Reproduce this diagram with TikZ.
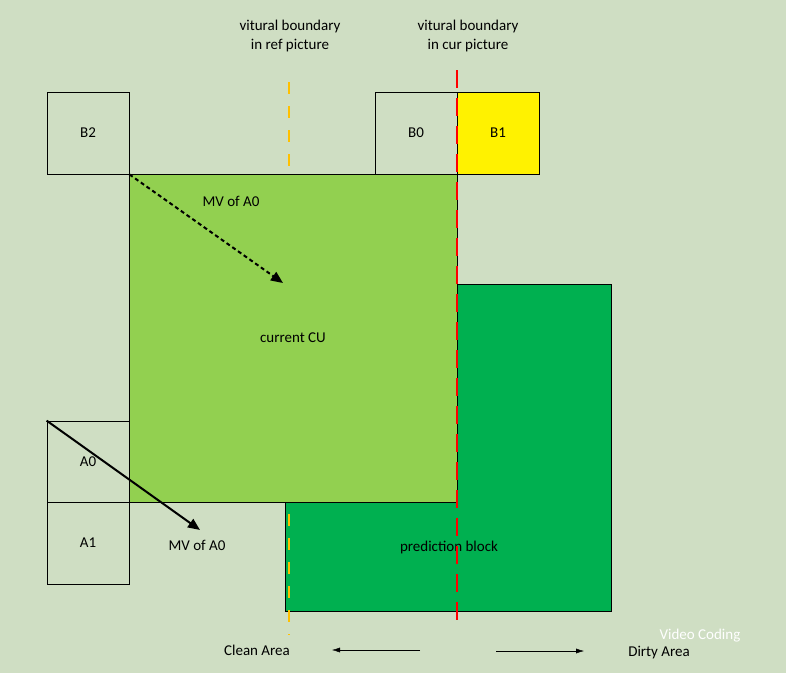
\documentclass[tikz,border=0pt]{standalone}
\usepackage{fontspec}
\setmainfont{Carlito}
\usetikzlibrary{arrows.meta}
\definecolor{bg}{HTML}{CFDEC3}
\definecolor{lg}{HTML}{92D050}
\definecolor{dg}{HTML}{00B050}
\definecolor{org}{HTML}{FFC000}
\begin{document}
\begin{tikzpicture}[x=1pt,y=-1pt,font=\fontsize{15}{18}\selectfont,
  box/.style={draw=black,line width=0.8pt,minimum size=82pt,inner sep=0pt},
  lab/.style={inner sep=0pt,align=center}]
\fill[bg] (0,0) rectangle (786,673);
\useasboundingbox (0,0) rectangle (786,673);
\node[box,fill=dg,minimum width=326pt,minimum height=327pt] (pb) at (448,447.5) {};
\coordinate (ot) at (289,82); \coordinate (ob) at (289,635);
\draw[org,line width=2.5pt,dash pattern=on 12pt off 12pt] (ot) -- (ob);
\node[box,fill=lg,minimum size=328pt] (cu) at (293,338) {};
\node[box] (b2) at (88,133) {B2};
\node[box] (b0) at (416,133) {B0};
\node[box,fill=yellow] (b1) at (498,133) {B1};
\node[box,minimum height=81pt] (a0) at (88,461.5) {A0};
\node[box] (a1) at (88,543) {A1};
\node[lab] at (449,547) {prediction block};
\node[lab] at (293,338) {current CU};
\node[lab] (mv1) at (231,201) {MV of A0};
\node[lab] (mv2) at (197,545) {MV of A0};
\coordinate (rt) at (457,70); \coordinate (rb) at (457,620);
\draw[red,line width=2.5pt,dash pattern=on 18pt off 10pt] (rt) -- (rb);
\coordinate (d1) at (283,283);
\draw[line width=2pt,dash pattern=on 4pt off 3pt,-{Triangle[length=12pt,width=10pt]}] (b2.south east) -- (d1);
\coordinate (d2) at (200,530);
\draw[line width=2pt,-{Triangle[length=12pt,width=10pt]}] (a0.north west) -- (d2);
\node[lab] at (290,36) {vitural boundary\\[1pt]in ref picture};
\node[lab] at (468,36) {vitural boundary\\[1pt]in cur picture};
\node[lab] (clean) at (257,650) {Clean Area};
\node[lab] (dirty) at (659,653) {Dirty Area};
\coordinate (c1) at (420,650); \coordinate (c2) at (332,650);
\coordinate (e1) at (496,651); \coordinate (e2) at (584,651);
\draw[-{Latex[length=8pt,width=5pt]}] (c1) -- (c2);
\draw[-{Latex[length=8pt,width=5pt]}] (e1) -- (e2);
\node[lab,text=white,font=\fontsize{15}{18}\selectfont] at (700,636) {Video Coding};
\end{tikzpicture}
\end{document}
